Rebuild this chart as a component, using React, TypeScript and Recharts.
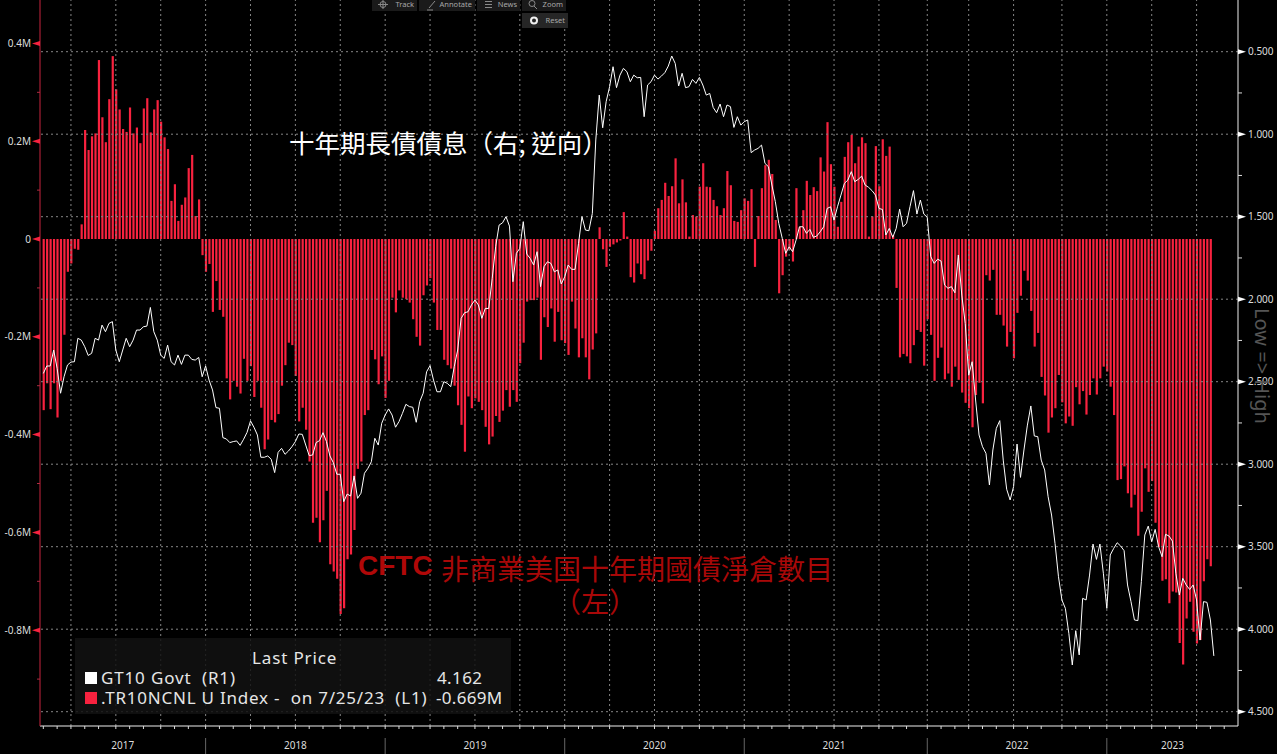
import React from "react";
import { ComposedChart, Bar, Line, XAxis, YAxis, ReferenceLine } from "recharts";

// CFTC non-commercial net positions in 10-year futures (millions of contracts)
const netPositions: number[] = [
  -.35,-.295,-.348,-.295,-.365,-.29,-.196,-.067,-.05,-.02,
  -.022,.03,.223,.182,.21,.216,.366,.249,.198,.286,
  .374,.306,.265,.225,.219,.269,.216,.228,.196,.267,
  .288,.218,.265,.284,.24,.208,.184,.078,.112,.037,
  .07,.085,.145,.172,.047,.081,-.033,-.067,-.051,-.149,
  -.086,-.145,-.159,-.285,-.328,-.29,-.302,-.316,-.245,-.29,
  -.26,-.323,-.29,-.345,-.43,-.41,-.37,-.375,-.358,-.3,
  -.258,-.212,-.217,-.28,-.373,-.345,-.39,-.455,-.58,-.57,
  -.62,-.575,-.515,-.665,-.68,-.695,-.767,-.755,-.655,-.645,
  -.595,-.47,-.455,-.36,-.35,-.227,-.246,-.297,-.24,-.325,
  -.29,-.12,-.15,-.105,-.12,-.123,-.13,-.164,-.2,-.218,
  -.115,-.095,-.08,-.13,-.186,-.186,-.247,-.258,-.265,-.30,
  -.34,-.38,-.435,-.322,-.346,-.326,-.333,-.35,-.384,-.42,
  -.404,-.362,-.374,-.351,-.309,-.343,-.309,-.333,-.254,-.212,
  -.128,-.125,-.125,-.12,-.247,-.16,-.18,-.142,-.21,-.149,
  -.207,-.213,-.237,-.128,-.183,-.242,-.203,-.242,-.287,-.226,
  -.193,.024,-.021,-.057,-.016,-.011,-.007,-.003,.055,.005,
  -.078,-.089,-.05,-.072,-.082,-.044,-.024,.017,.063,.08,
  .115,.088,.108,.165,.073,.122,.075,.005,.049,.046,
  .107,.155,.107,.106,.08,.067,.049,.063,.139,.11,
  .037,.035,.059,.083,.078,.102,-.057,.047,.104,.151,
  .162,.133,.039,-.111,-.074,-.036,-.022,-.046,.104,.025,
  .059,.119,.09,.106,.098,.167,.138,.239,.153,.107,
  .025,.076,.168,.198,.213,.155,.189,.208,.196,.005,
  .046,.19,.108,.204,.17,.189,.008,-.1,-.242,-.235,
  -.24,-.254,-.217,-.186,-.19,-.259,-.164,-.196,-.29,-.243,
  -.222,-.287,-.275,-.302,-.261,-.288,-.314,-.335,-.346,-.385,
  -.319,-.294,-.336,-.074,-.085,-.063,-.155,-.155,-.177,-.22,
  -.19,-.244,-.151,-.116,-.065,-.085,-.147,-.22,-.192,-.282,
  -.32,-.396,-.365,-.346,-.278,-.334,-.377,-.363,-.382,-.303,
  -.338,-.311,-.359,-.319,-.285,-.318,-.285,-.261,-.271,-.302,
  -.36,-.493,-.491,-.465,-.52,-.549,-.523,-.607,-.558,-.469,
  -.517,-.495,-.58,-.63,-.699,-.696,-.745,-.721,-.723,-.826,
  -.87,-.776,-.742,-.803,-.827,-.82,-.7,-.655,-.669,
];

// GT10 Govt yield (percent), plotted on a reversed right axis
const yield10y: number[] = [
  2.450,2.405,2.405,2.308,2.419,2.570,2.470,2.399,2.381,2.379,
  2.237,2.248,2.288,2.341,2.328,2.237,2.248,2.157,2.197,2.147,
  2.136,2.308,2.379,2.308,2.237,2.288,2.248,2.187,2.187,2.167,
  2.163,2.050,2.197,2.248,2.339,2.359,2.278,2.379,2.399,2.339,
  2.395,2.339,2.339,2.365,2.369,2.353,2.470,2.405,2.490,2.550,
  2.657,2.661,2.839,2.847,2.869,2.863,2.859,2.886,2.849,2.807,
  2.738,2.776,2.823,2.958,2.958,2.950,2.970,3.051,2.928,2.904,
  2.940,2.920,2.894,2.863,2.817,2.819,2.884,2.948,2.944,2.869,
  2.857,2.809,2.863,2.950,2.991,3.061,3.061,3.227,3.181,3.193,
  3.071,3.207,3.176,3.055,3.025,2.985,2.843,2.884,2.752,2.702,
  2.665,2.702,2.776,2.742,2.692,2.637,2.651,2.655,2.746,2.621,
  2.570,2.440,2.403,2.490,2.561,2.561,2.500,2.510,2.530,2.409,
  2.308,2.116,2.082,2.076,2.035,2.005,2.035,2.116,2.056,2.056,
  1.874,1.682,1.551,1.537,1.500,1.557,1.894,1.722,1.692,1.530,
  1.726,1.753,1.793,1.712,1.924,1.803,1.773,1.783,1.834,1.823,
  1.908,1.864,1.793,1.819,1.819,1.662,1.500,1.581,1.585,1.480,
  1.035,0.763,0.961,0.803,0.712,0.591,0.718,0.642,0.601,0.621,
  0.682,0.642,0.658,0.656,0.894,0.702,0.682,0.642,0.666,0.648,
  0.627,0.587,0.526,0.571,0.708,0.631,0.718,0.712,0.668,0.692,
  0.656,0.702,0.763,0.753,0.838,0.870,0.817,0.894,0.823,0.833,
  0.959,0.894,0.945,0.924,0.914,1.112,1.096,1.086,1.066,1.177,
  1.197,1.308,1.409,1.541,1.631,1.722,1.682,1.712,1.642,1.561,
  1.561,1.601,1.577,1.625,1.617,1.591,1.561,1.450,1.440,1.520,
  1.440,1.369,1.298,1.278,1.227,1.288,1.274,1.254,1.308,1.322,
  1.342,1.369,1.450,1.456,1.611,1.571,1.625,1.571,1.454,1.561,
  1.540,1.439,1.342,1.484,1.399,1.484,1.504,1.742,1.783,1.757,
  1.769,1.914,1.934,1.924,1.961,1.732,1.975,2.147,2.460,2.379,
  2.611,2.823,2.894,2.934,3.126,2.914,2.783,2.736,2.975,3.152,
  3.217,3.136,2.878,3.080,2.914,2.763,2.647,2.829,2.833,2.975,
  3.035,3.197,3.308,3.480,3.682,3.823,3.874,4.025,4.217,4.009,
  4.156,3.813,3.823,3.672,3.484,3.577,3.484,3.661,3.874,3.550,
  3.510,3.476,3.496,3.524,3.732,3.833,3.944,3.948,3.712,3.429,
  3.375,3.470,3.395,3.500,3.561,3.425,3.435,3.466,3.661,3.793,
  3.692,3.732,3.759,3.732,3.823,4.066,3.833,3.837,3.944,4.162,
];

const SLOTS = 346;
const rows = Array.from({ length: SLOTS }, (_, i) => ({
  week: i,
  net: netPositions[i],
  yld: yield10y[i],
}));

const leftMajor = [0.4, 0.2, 0, -0.2, -0.4, -0.6, -0.8];
const leftMinor = [0.3, 0.1, -0.1, -0.3, -0.5, -0.7, -0.9];
const rightMajor = [0.5, 1, 1.5, 2, 2.5, 3, 3.5, 4, 4.5];
const rightMinor = [0.75, 1.25, 1.75, 2.25, 2.75, 3.25, 3.75, 4.25];

// week index of each quarter start (these carry the vertical grid lines)
const quarters = [8,21,34,47,60,73,86,99,112,125,138,151,164,177,190,203,216,229,242,256,268,281,295,308,321,334];
const monthTicks = [0, 4, ...quarters.flatMap((q) => [q, q + 4, q + 8])];
const yearBreaks = [47, 99, 151, 203, 256, 308];
const yearLabels: Record<number, string> = { 23: "2017", 73: "2018", 125: "2019", 177: "2020", 229: "2021", 282: "2022", 327: "2023" };
const xTicks = Array.from(new Set([...monthTicks, ...Object.keys(yearLabels).map(Number)])).sort((a, b) => a - b);

const GRID = "#858585";
const RED = "#f8223f";
const AXIS_FONT = "'Noto Sans', Tahoma, sans-serif";

function LeftTick({ x, y, payload }: any) {
  const v = payload.value as number;
  if (!leftMajor.includes(v)) return <line x1={x - 3} x2={x} y1={y} y2={y} stroke="#b02a40" />;
  const label = v === 0 ? "0" : `${v.toFixed(1)}M`;
  return (
    <g>
      <polygon points={`${x},${y - 2.5} ${x},${y + 2.5} ${x - 8},${y}`} fill={RED} />
      <text x={x - 9} y={y + 3.5} textAnchor="end" fill="#dcdcdc" fontSize={10} fontFamily={AXIS_FONT}>{label}</text>
    </g>
  );
}

function RightTick({ x, y, payload }: any) {
  const v = payload.value as number;
  if (!rightMajor.includes(v)) return <line x1={x} x2={x + 4} y1={y} y2={y} stroke="#ddd" />;
  return (
    <g>
      <polygon points={`${x},${y - 2.5} ${x},${y + 2.5} ${x + 8},${y}`} fill="#fff" />
      <text x={x + 10} y={y + 3.5} textAnchor="start" fill="#dcdcdc" fontSize={10} fontFamily={AXIS_FONT}>{v.toFixed(3)}</text>
    </g>
  );
}

function BottomTick({ x, y, payload }: any) {
  const v = payload.value as number;
  return (
    <g>
      {monthTicks.includes(v) && <line x1={x} x2={x} y1={y} y2={y + 3} stroke="#ddd" />}
      {yearBreaks.includes(v) && <line x1={x} x2={x} y1={y + 12} y2={y + 28} stroke="#666" />}
      {yearLabels[v] && (
        <text x={x} y={y + 23} textAnchor="middle" fill="#dcdcdc" fontSize={10} fontFamily={AXIS_FONT}>{yearLabels[v]}</text>
      )}
    </g>
  );
}

const toolStyle: React.CSSProperties = {
  position: "absolute", top: 0, height: 11, background: "#1a1a1a", color: "#a8a8a8",
  fontFamily: AXIS_FONT, fontSize: 7.5, lineHeight: "9px", textAlign: "right", paddingRight: 3, boxSizing: "border-box",
};
const abs = (left: number, top: number): React.CSSProperties => ({ position: "absolute", left, top, whiteSpace: "pre" });
const legendFont: React.CSSProperties = { fontFamily: "'Noto Sans', Tahoma, sans-serif", fontSize: 17, letterSpacing: 0.85, color: "#e6e6e6", lineHeight: "20px" };

function ToolIcons() {
  return (
    <svg width={220} height={30} style={{ position: "absolute", left: 360, top: 0 }} fill="none" stroke="#8a8a8a" strokeWidth={1}>
      <circle cx={23} cy={4.5} r={3} />
      <path d="M23 0v9M18 4.5h10" />
      <path d="M69 8l6-7M67 10h6" />
      <path d="M125 1.5h7M125 4.5h7M125 7.5h7" />
      <circle cx={172} cy={3.5} r={3} />
      <path d="M174 6l3 3" />
      <circle cx={174} cy={20.5} r={3} stroke="#f0f0f0" strokeWidth={2} />
    </svg>
  );
}

export default function App() {
  return (
    <div style={{ position: "absolute", left: 0, top: 0, width: 1277, height: 754, background: "#000", overflow: "hidden" }}>
      <ComposedChart width={1277} height={754} data={rows} margin={{ top: 0, right: 0, bottom: 0, left: 0 }} barCategoryGap={0}>
        <XAxis
          dataKey="week" type="category" ticks={xTicks} interval={0} height={28} padding={{ left: 1.6, right: 1.7 }}
          axisLine={{ stroke: "#eee" }} tickLine={false} tick={<BottomTick />} tickSize={0} tickMargin={0}
        />
        <YAxis
          yAxisId="left" orientation="left" width={40} domain={[-0.9959, 0.4888]} allowDataOverflow
          ticks={[...leftMajor, ...leftMinor]} interval={0} tickLine={false} tickSize={0} tickMargin={0}
          axisLine={{ stroke: "#c8243f" }} tick={<LeftTick />}
        />
        <YAxis
          yAxisId="right" orientation="right" width={39} reversed domain={[0.1867, 4.5867]} allowDataOverflow
          ticks={[...rightMajor, ...rightMinor]} interval={0} tickLine={false} tickSize={0} tickMargin={0}
          axisLine={{ stroke: "#eee" }} tick={<RightTick />}
        />
        {quarters.map((q) => (
          <ReferenceLine key={`q${q}`} yAxisId="left" x={q} stroke={GRID} strokeDasharray="2 3" />
        ))}
        {rightMajor.map((r) => (
          <ReferenceLine key={`r${r}`} yAxisId="right" y={r} stroke={GRID} strokeDasharray="2 3" />
        ))}
        <Bar yAxisId="left" dataKey="net" fill={RED} barSize={2.2} isAnimationActive={false} />
        <Line yAxisId="right" dataKey="yld" stroke="#fff" strokeWidth={1} dot={false} type="linear" isAnimationActive={false} />
      </ComposedChart>

      {/* toolbar */}
      <div style={{ ...toolStyle, left: 372, width: 45 }}>Track</div>
      <div style={{ ...toolStyle, left: 419, width: 56 }}>Annotate</div>
      <div style={{ ...toolStyle, left: 477, width: 43 }}>News</div>
      <div style={{ ...toolStyle, left: 522, width: 44 }}>Zoom</div>
      <div style={{ ...toolStyle, left: 522, top: 13, width: 46, height: 15, lineHeight: "15px", background: "#262626" }}>Reset</div>
      <ToolIcons />

      {/* annotations */}
      <div style={{ ...abs(289, 127), color: "#fff", fontFamily: "'Noto Sans CJK TC', sans-serif", fontWeight: 400, fontSize: 25.5, lineHeight: "30px" }}>十年期長債債息（右; 逆向）</div>
      <div style={{ ...abs(358, 551), color: "#b00808", fontFamily: "'Liberation Sans', sans-serif", fontWeight: 700, fontSize: 28, lineHeight: "30px" }}>CFTC</div>
      <div style={{ ...abs(441, 552), color: "#a80808", fontFamily: "'Noto Sans CJK TC', sans-serif", fontWeight: 400, fontSize: 28, lineHeight: "32px" }}>非商業美国十年期國債淨倉數目</div>
      <div style={{ ...abs(553, 585), color: "#a80808", fontFamily: "'Noto Sans CJK TC', sans-serif", fontWeight: 400, fontSize: 28, lineHeight: "32px" }}>（左）</div>

      {/* watermark */}
      <div style={{ position: "absolute", left: 1262, top: 366, transform: "translate(-50%,-50%) rotate(90deg)", color: "#555", fontFamily: "'Noto Sans', sans-serif", fontSize: 20, whiteSpace: "pre" }}>Low =&gt; High</div>

      {/* legend */}
      <div style={{ position: "absolute", left: 75, top: 638, width: 436, height: 76, background: "rgba(18,18,18,0.85)" }} />
      <div style={{ ...abs(252, 648), ...legendFont }}>Last Price</div>
      <div style={{ position: "absolute", left: 85, top: 672, width: 12, height: 12, background: "#fff" }} />
      <div style={{ ...abs(101, 668), ...legendFont }}>GT10 Govt  (R1)</div>
      <div style={{ ...abs(437, 668), ...legendFont, letterSpacing: 0.4 }}>4.162</div>
      <div style={{ position: "absolute", left: 85, top: 692, width: 12, height: 12, background: RED }} />
      <div style={{ ...abs(101, 688), ...legendFont, letterSpacing: 0.78 }}>.TR10NCNL U Index -  on 7/25/23  (L1)</div>
      <div style={{ ...abs(436, 688), ...legendFont, letterSpacing: 0.3 }}>-0.669M</div>
    </div>
  );
}
